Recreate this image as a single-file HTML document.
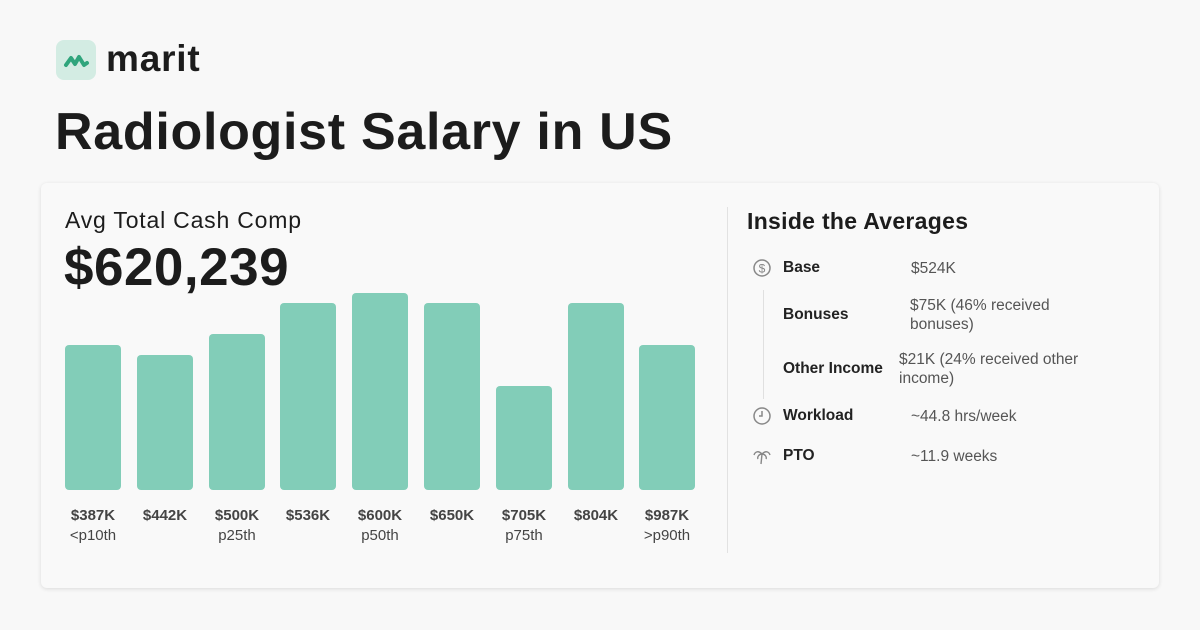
<!DOCTYPE html>
<html><head><style>
*{margin:0;padding:0;box-sizing:border-box}
body{width:1200px;height:630px;background:#f8f8f8;font-family:"Liberation Sans",sans-serif;position:relative;overflow:hidden;color:#1c1c1c}
.a{position:absolute;white-space:nowrap}
.card{position:absolute;left:41px;top:183px;width:1118px;height:405px;background:#f9f9f9;border-radius:6px;box-shadow:0 1px 4px rgba(0,0,0,.12)}
.bar{position:absolute;width:56px;background:#82cdb8;border-radius:4px;bottom:140px}
.v{position:absolute;width:80px;text-align:center;font-weight:bold;font-size:15px;color:#444;top:507px}
.s{position:absolute;width:80px;text-align:center;font-size:15px;color:#444;top:527px}
.l{position:absolute;left:783px;font-weight:bold;font-size:15.5px;color:#222}
.r{position:absolute;font-size:15.5px;color:#555;line-height:19px}
</style></head><body>
<div class="a" style="left:56px;top:40px;width:40px;height:40px;background:#d3ece3;border-radius:8px"></div>
<svg class="a" style="left:56px;top:40px" width="40" height="40"><path d="M10 25 L15 18 L19 24 L23 17 L28 25 L31 23" stroke="#2fa57c" stroke-width="4" fill="none" stroke-linecap="round" stroke-linejoin="round"/></svg>
<div class="a" style="left:106px;top:38px;font-size:37px;font-weight:bold;color:#1c1c1c;letter-spacing:0.8px">marit</div>
<div class="a" style="left:55px;top:102px;font-size:52px;font-weight:bold;color:#1c1c1c;letter-spacing:0.7px">Radiologist Salary in US</div>
<div class="card"></div>
<div class="a" style="left:727px;top:207px;width:1px;height:346px;background:#e2e2e2"></div>
<div class="a" style="left:65px;top:207px;font-size:23px;color:#1c1c1c;letter-spacing:0.8px">Avg Total Cash Comp</div>
<div class="a" style="left:64px;top:237px;font-size:53px;font-weight:bold;color:#1c1c1c;letter-spacing:0.5px">$620,239</div>
<div class="bar" style="left:65px;top:345px"></div>
<div class="bar" style="left:137px;top:355px"></div>
<div class="bar" style="left:209px;top:334px"></div>
<div class="bar" style="left:280px;top:303px"></div>
<div class="bar" style="left:352px;top:293px"></div>
<div class="bar" style="left:424px;top:303px"></div>
<div class="bar" style="left:496px;top:386px"></div>
<div class="bar" style="left:568px;top:303px"></div>
<div class="bar" style="left:639px;top:345px"></div>
<div class="v" style="left:53px">$387K</div><div class="s" style="left:53px">&lt;p10th</div>
<div class="v" style="left:125px">$442K</div>
<div class="v" style="left:197px">$500K</div><div class="s" style="left:197px">p25th</div>
<div class="v" style="left:268px">$536K</div>
<div class="v" style="left:340px">$600K</div><div class="s" style="left:340px">p50th</div>
<div class="v" style="left:412px">$650K</div>
<div class="v" style="left:484px">$705K</div><div class="s" style="left:484px">p75th</div>
<div class="v" style="left:556px">$804K</div>
<div class="v" style="left:627px">$987K</div><div class="s" style="left:627px">&gt;p90th</div>
<div class="a" style="left:747px;top:208px;font-size:23px;font-weight:bold;color:#1c1c1c;letter-spacing:0.3px">Inside the Averages</div>
<svg class="a" style="left:752px;top:258px" width="20" height="20"><circle cx="10" cy="10" r="8" stroke="#888" stroke-width="1.5" fill="none"/><text x="10" y="14.5" font-size="12" text-anchor="middle" fill="#888" font-family="Liberation Sans">$</text></svg>
<div class="a" style="left:763px;top:290px;width:1px;height:55px;background:#e0e0e0"></div>
<div class="a" style="left:763px;top:344px;width:1px;height:55px;background:#e0e0e0"></div>
<svg class="a" style="left:752px;top:406px" width="20" height="20"><circle cx="10" cy="10" r="8" stroke="#888" stroke-width="1.5" fill="none"/><path d="M10 5 V10 H7" stroke="#888" stroke-width="1.5" fill="none"/></svg>
<svg class="a" style="left:752px;top:446px" width="20" height="20"><path d="M9 18 L10 8 M10 8 C6 4 3 6 2 9 M10 8 C14 4 17 6 18 9 M10 8 C7 8 5 11 6 13 M10 8 C13 8 15 11 14 13" stroke="#888" stroke-width="1.4" fill="none"/></svg>
<div class="l" style="top:259px">Base</div><div class="r" style="left:911px;top:259px">$524K</div>
<div class="l" style="top:306px">Bonuses</div><div class="r" style="left:910px;top:296px">$75K (46% received<br>bonuses)</div>
<div class="l" style="top:360px">Other Income</div><div class="r" style="left:899px;top:350px">$21K (24% received other<br>income)</div>
<div class="l" style="top:407px">Workload</div><div class="r" style="left:911px;top:407px">~44.8 hrs/week</div>
<div class="l" style="top:447px">PTO</div><div class="r" style="left:911px;top:447px">~11.9 weeks</div>
</body></html>
